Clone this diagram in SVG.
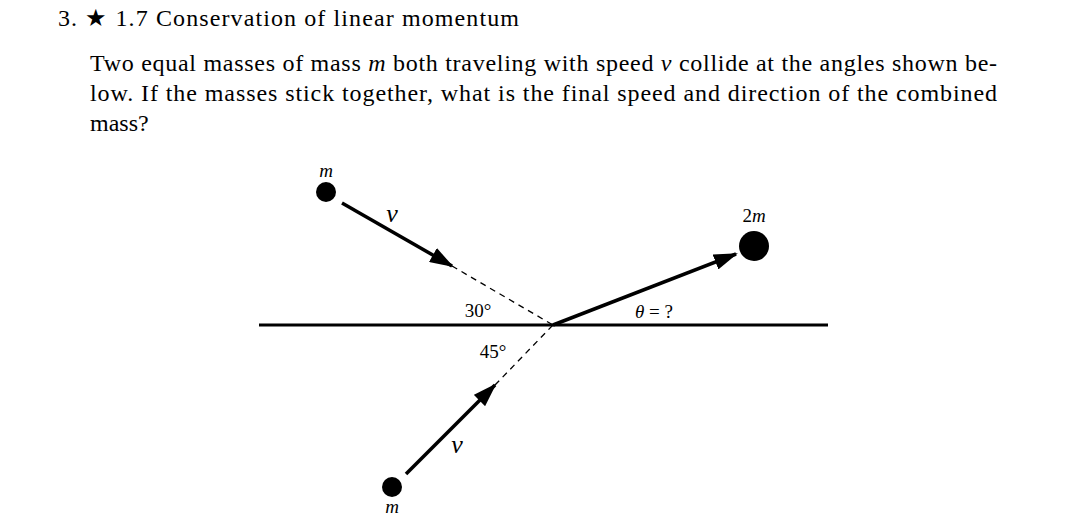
<svg xmlns="http://www.w3.org/2000/svg" width="1080" height="526" viewBox="0 0 1080 526">
<style>
.t{font-family:"Liberation Serif","DejaVu Serif",serif;font-size:24px;fill:#000}
.l{font-family:"Liberation Serif","DejaVu Serif",serif;font-size:19px;fill:#000}
.v{font-family:"Liberation Serif","DejaVu Serif",serif;font-size:26px;font-style:italic;fill:#000}
.i{font-style:italic}
.arr{stroke:#000;stroke-width:3.5;fill:none;marker-end:url(#ah)}
.d{stroke:#000;stroke-width:1.3;stroke-dasharray:6,5;fill:none}
</style>
<defs>
<marker id="ah" markerUnits="userSpaceOnUse" markerWidth="24" markerHeight="16" refX="22" refY="8" orient="auto">
<path d="M0,0 L24,8 L0,16 Z" fill="#000"/>
</marker>
</defs>
<rect width="1080" height="526" fill="#fff"/>
<g id="text">
<text class="t" x="58" y="26" textLength="461" lengthAdjust="spacing">3.  ★ 1.7 Conservation of linear momentum</text>
<text class="t" x="90" y="71" textLength="907" lengthAdjust="spacing">Two equal masses of mass <tspan class="i">m</tspan> both traveling with speed <tspan class="i">v</tspan> collide at the angles shown be-</text>
<text class="t" x="90" y="101" textLength="907" lengthAdjust="spacing">low.  If the masses stick together, what is the final speed and direction of the combined</text>
<text class="t" x="90" y="131">mass?</text>
</g>
<g id="axis"><line x1="259" y1="325" x2="828" y2="325" stroke="#000" stroke-width="3"/></g>
<g id="mass-top"><circle cx="326" cy="192" r="10"/><text class="l i" x="326" y="177" text-anchor="middle">m</text></g>
<g id="mass-bottom"><circle cx="392" cy="487" r="10"/><text class="l i" x="392" y="513" text-anchor="middle">m</text></g>
<g id="mass-combined"><circle cx="754" cy="246" r="15"/><text class="l" x="754" y="222" text-anchor="middle">2<tspan class="i">m</tspan></text></g>
<g id="connectors">
<line class="arr" x1="342" y1="203" x2="452" y2="266"/>
<line class="d" x1="452" y1="266" x2="553" y2="325"/>
<line class="arr" x1="406" y1="474" x2="495" y2="385"/>
<line class="d" x1="495" y1="385" x2="553" y2="325"/>
<line class="arr" x1="553" y1="325" x2="736" y2="254"/>
</g>
<g id="labels">
<text class="v" x="392" y="222" text-anchor="middle">v</text>
<text class="v" x="457" y="453" text-anchor="middle">v</text>
<text class="l" x="478" y="317" text-anchor="middle">30°</text>
<text class="l" x="493" y="358" text-anchor="middle">45°</text>
<text class="l" x="654" y="318" text-anchor="middle"><tspan class="i">θ</tspan> = ?</text>
</g>
</svg>
